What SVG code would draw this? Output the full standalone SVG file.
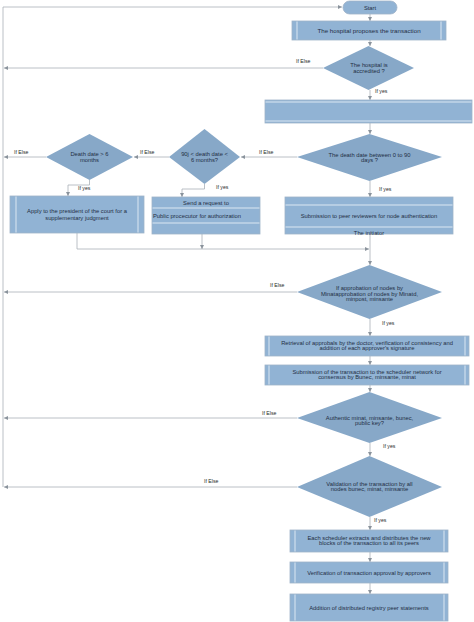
<svg xmlns="http://www.w3.org/2000/svg" width="474" height="622" viewBox="0 0 474 622">
<style>
.box{fill:#91b3d4;stroke:#9fb3c8;stroke-width:0.8}
.dia{fill:#87a8c8;stroke:none}
.inner{stroke:#e4edf6;stroke-width:0.9;fill:none}
.t{font-family:"Liberation Sans",Arial,sans-serif;font-size:5.8px;fill:#1f2e44;text-anchor:middle}
.tl{font-family:"Liberation Sans",Arial,sans-serif;font-size:5.8px;fill:#1f2e44;text-anchor:start}
.lab{font-family:"Liberation Sans",Arial,sans-serif;font-size:5.2px;fill:#2a2a2a;text-anchor:start}
.c{fill:none;stroke:#a9b0b8;stroke-width:0.8}
</style>
<defs>
<marker id="ah" markerWidth="4" markerHeight="4" refX="4" refY="2" orient="auto" markerUnits="userSpaceOnUse">
<path d="M0,0 L4,2 L0,4 z" fill="#8a939c"/>
</marker>
</defs>
<rect width="474" height="622" fill="#ffffff"/>

<g id="connectors">
<path class="c" d="M3 487 V7 H342" marker-end="url(#ah)"/>
<path class="c" d="M323 68 H4" marker-end="url(#ah)"/>
<path class="c" d="M297 157 H241" marker-end="url(#ah)"/>
<path class="c" d="M169 157 H134" marker-end="url(#ah)"/>
<path class="c" d="M46 157 H4" marker-end="url(#ah)"/>
<path class="c" d="M297 292 H4" marker-end="url(#ah)"/>
<path class="c" d="M297 418 H4" marker-end="url(#ah)"/>
<path class="c" d="M297 487 H4" marker-end="url(#ah)"/>
<path class="c" d="M370 14 V21" marker-end="url(#ah)"/>
<path class="c" d="M370 40 V46" marker-end="url(#ah)"/>
<path class="c" d="M370 90 V100" marker-end="url(#ah)"/>
<path class="c" d="M370 123 V134" marker-end="url(#ah)"/>
<path class="c" d="M370 181 V197" marker-end="url(#ah)"/>
<path class="c" d="M89.5 180 V185 H68 V196" marker-end="url(#ah)"/>
<path class="c" d="M204.5 184 V189 H182 V197" marker-end="url(#ah)"/>
<path class="c" d="M77 233 V249 H369" marker-end="url(#ah)"/>
<path class="c" d="M202 234 V249" marker-end="url(#ah)"/>
<path class="c" d="M370 234 V265" marker-end="url(#ah)"/>
<path class="c" d="M370 319 V336" marker-end="url(#ah)"/>
<path class="c" d="M370 356 V365" marker-end="url(#ah)"/>
<path class="c" d="M370 385 V392" marker-end="url(#ah)"/>
<path class="c" d="M370 443 V456" marker-end="url(#ah)"/>
<path class="c" d="M370 517 V530" marker-end="url(#ah)"/>
<path class="c" d="M370 552 V562" marker-end="url(#ah)"/>
<path class="c" d="M370 583 V594" marker-end="url(#ah)"/>
<text class="lab" x="296" y="63">If Else</text>
<text class="lab" x="375" y="93">If yes</text>
<text class="lab" x="259" y="154">If Else</text>
<text class="lab" x="140" y="154">If Else</text>
<text class="lab" x="14" y="154">If Else</text>
<text class="lab" x="78" y="190">If yes</text>
<text class="lab" x="216" y="189">If yes</text>
<text class="lab" x="379" y="191">If yes</text>
<text class="lab" x="270" y="287">If Else</text>
<text class="lab" x="382" y="325">If yes</text>
<text class="lab" x="262" y="415">If Else</text>
<text class="lab" x="383" y="448">If yes</text>
<text class="lab" x="204" y="483">If Else</text>
<text class="lab" x="374" y="522">If yes</text>
</g>

<g id="start">
<rect class="box" x="343" y="1" width="54" height="13" rx="6.5"/>
<text class="t" x="370" y="9.7">Start</text>
</g>

<g id="proposes">
<rect class="box" x="292" y="21" width="154" height="19"/>
<line class="inner" x1="297" y1="21.5" x2="297" y2="39.5"/>
<line class="inner" x1="441" y1="21.5" x2="441" y2="39.5"/>
<text class="t" x="369" y="32.5" style="font-size:6.2px">The hospital proposes the transaction</text>
</g>

<g id="accredited">
<polygon class="dia" points="323,68 368.5,46 414,68 368.5,90"/>
<text class="t" x="369" y="67">The hospital is</text>
<text class="t" x="369" y="73">accredited ?</text>
</g>

<g id="blank">
<rect class="box" x="265" y="100" width="207" height="23"/>
<line class="inner" x1="265.5" y1="102" x2="471.5" y2="102"/>
<line class="inner" x1="265.5" y1="121" x2="471.5" y2="121"/>
</g>

<g id="between">
<polygon class="dia" points="297,157 369.5,134 442,157 369.5,181"/>
<text class="t" x="369.5" y="156.5">The death date between 0 to 90</text>
<text class="t" x="369.5" y="162">days ?</text>
</g>

<g id="between90">
<polygon class="dia" points="169,157 204.5,129 240,157 204.5,184"/>
<text class="t" x="204.5" y="156">90j &lt; death date &lt;</text>
<text class="t" x="204.5" y="161.5">6 months?</text>
</g>

<g id="over6">
<polygon class="dia" points="46,157 89.5,134 133,157 89.5,180"/>
<text class="t" x="89.5" y="156">Death date &gt; 6</text>
<text class="t" x="89.5" y="161.5">months</text>
</g>

<g id="apply">
<rect class="box" x="10" y="196" width="134" height="37"/>
<line class="inner" x1="16" y1="196.5" x2="16" y2="232.5"/>
<line class="inner" x1="138" y1="196.5" x2="138" y2="232.5"/>
<text class="t" x="77" y="213">Apply to the president of the court for a</text>
<text class="t" x="77" y="219.5">supplementary judgment</text>
</g>

<g id="request">
<rect class="box" x="152" y="197" width="108" height="37"/>
<line class="inner" x1="152.5" y1="208" x2="259.5" y2="208"/>
<line class="inner" x1="152.5" y1="223" x2="259.5" y2="223"/>
<text class="t" x="206" y="205">Send a request to</text>
<text class="tl" x="153" y="218">Public procecutor for authorization</text>
</g>

<g id="peer">
<rect class="box" x="285" y="197" width="168" height="37"/>
<line class="inner" x1="285.5" y1="205" x2="452.5" y2="205"/>
<line class="inner" x1="285.5" y1="227" x2="452.5" y2="227"/>
<text class="t" x="369" y="218">Submission to peer reviewers for node authentication</text>
<text class="t" x="369" y="234.5">The initiator</text>
</g>

<g id="approbation">
<polygon class="dia" points="297,292 369.5,265 442,292 369.5,319"/>
<text class="t" x="369.5" y="290">If approbation of nodes by</text>
<text class="t" x="369.5" y="295.5">Minatapprobation of nodes by Minatd,</text>
<text class="t" x="369.5" y="301">minpost, minsante</text>
</g>

<g id="retrieval">
<rect class="box" x="265" y="336" width="204" height="20"/>
<line class="inner" x1="269" y1="336.5" x2="269" y2="355.5"/>
<line class="inner" x1="465" y1="336.5" x2="465" y2="355.5"/>
<text class="t" x="367" y="344.5">Retrieval of approbals by the doctor, verification of consistency and</text>
<text class="t" x="367" y="350">addition of each approver's signature</text>
</g>

<g id="scheduler">
<rect class="box" x="265" y="365" width="204" height="20"/>
<line class="inner" x1="269" y1="365.5" x2="269" y2="384.5"/>
<line class="inner" x1="465" y1="365.5" x2="465" y2="384.5"/>
<text class="t" x="367" y="373.5">Submission of the transaction to the scheduler network for</text>
<text class="t" x="367" y="379">consensus by Bunec, minsante, minat</text>
</g>

<g id="authentic">
<polygon class="dia" points="297,418 369.5,392 442,418 369.5,443"/>
<text class="t" x="369.5" y="419.5">Authentic minat, minsante, bunec,</text>
<text class="t" x="369.5" y="425">public key?</text>
</g>

<g id="validation">
<polygon class="dia" points="297,487 369.5,456 442,487 369.5,517"/>
<text class="t" x="369.5" y="485.5">Validation of the transaction by all</text>
<text class="t" x="369.5" y="491">nodes bunec, minat, minsante</text>
</g>

<g id="extracts">
<rect class="box" x="290" y="530" width="158" height="22"/>
<line class="inner" x1="295" y1="530.5" x2="295" y2="551.5"/>
<line class="inner" x1="444" y1="530.5" x2="444" y2="551.5"/>
<text class="t" x="369" y="539.5">Each scheduler extracts and distributes the new</text>
<text class="t" x="369" y="545">blocks of the transaction to all its peers</text>
</g>

<g id="verification">
<rect class="box" x="290" y="562" width="158" height="21"/>
<line class="inner" x1="295" y1="562.5" x2="295" y2="582.5"/>
<line class="inner" x1="444" y1="562.5" x2="444" y2="582.5"/>
<text class="t" x="369" y="574.5">Verification of transaction approval by approvers</text>
</g>

<g id="addition">
<rect class="box" x="290" y="594" width="158" height="27"/>
<line class="inner" x1="295" y1="594.5" x2="295" y2="620.5"/>
<line class="inner" x1="444" y1="594.5" x2="444" y2="620.5"/>
<text class="t" x="369" y="609.5">Addition of distributed registry peer statements</text>
</g>
</svg>
